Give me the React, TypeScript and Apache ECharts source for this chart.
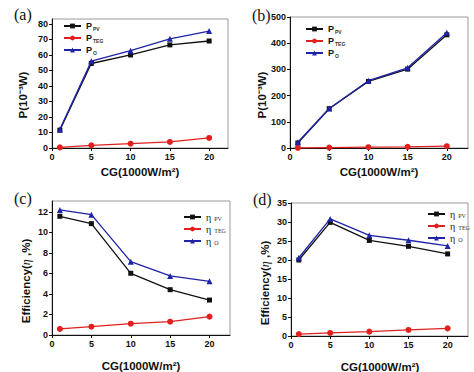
import React, { useEffect, useRef } from "react";
import * as echarts from "echarts";

const X = [1, 5, 10, 15, 20];
const pvA = [11.5, 54.5, 60, 66.5, 69];
const tegA = [0.4, 1.7, 2.8, 3.9, 6.5];
const oA = [12, 56, 62.8, 70.4, 75.4];
const pvB = [19, 150, 254, 301, 432];
const tegB = [0.5, 1.5, 3, 4.5, 7];
const oB = [22, 151, 257, 306, 440];
const pvC = [11.58, 10.86, 6.02, 4.42, 3.41];
const tegC = [0.59, 0.81, 1.1, 1.3, 1.79];
const oC = [12.2, 11.74, 7.15, 5.76, 5.24];
const pvD = [20.0, 29.9, 25.15, 23.6, 21.6];
const tegD = [0.5, 0.8, 1.15, 1.6, 2.0];
const oD = [20.6, 30.8, 26.5, 25.2, 23.7];

const BLACK = "#111111";
const RED = "#e0201e";
const BLUE = "#1e23a8";
const SANS = "Liberation Sans";
const SERIF = "Liberation Serif";

const pair = (ys: number[]) => X.map((x, i) => [x, ys[i]]);

export default function App() {
  const ref = useRef<HTMLDivElement>(null);
  useEffect(() => {
    const chart = echarts.init(ref.current!, null, { renderer: "svg" });
    const grids = [
      { left: 52, top: 19, width: 176, height: 129, xmax: 22.4, ymax: 83.2, yint: 10 },
      { left: 290, top: 17, width: 178, height: 131, xmax: 22.7, ymax: 500, yint: 100 },
      { left: 52, top: 201, width: 178, height: 134, xmax: 22.6, ymax: 13.07, yint: 2 },
      { left: 291, top: 203, width: 177, height: 133, xmax: 22.6, ymax: 35, yint: 5 },
    ];
    const data = [
      [pvA, tegA, oA],
      [pvB, tegB, oB],
      [pvC, tegC, oC],
      [pvD, tegD, oD],
    ];
    const keys = ["PV", "TEG", "O"];
    const colors = [BLACK, RED, BLUE];
    const symbols = ["rect", "circle", "triangle"];
    const symSizes = [5, 6, 6];
    const series: any[] = [];
    data.forEach((set, g) => {
      set.forEach((ys, k) => {
        series.push({
          type: "line",
          name: `${g}_${keys[k]}`,
          xAxisIndex: g,
          yAxisIndex: g,
          data: pair(ys),
          symbol: symbols[k],
          symbolSize: symSizes[k],
          color: colors[k],
          lineStyle: { color: colors[k], width: 1.3 },
          itemStyle: { color: colors[k] },
          z: k === 1 ? 3 : 2 + k,
        });
      });
    });
    const legendPos = [
      { left: 63, top: 21 },
      { left: 305, top: 24 },
      { left: 183, top: 212 },
      { left: 427, top: 209 },
    ];
    const legends = legendPos.map((p, g) => ({
      left: p.left,
      top: p.top,
      orient: "vertical",
      itemWidth: 17,
      itemHeight: 6,
      itemGap: 2,
      padding: 0,
      data: keys.map((k) => `${g}_${k}`),
      formatter: (name: string) => {
        const sub = name.split("_")[1];
        return g < 2 ? `{p|P}{s|${sub}}` : `{e|η}{t|${sub}}`;
      },
      textStyle: {
        lineHeight: 10,
        rich: {
          p: { fontFamily: SANS, fontWeight: "bold", fontSize: 9, color: "#111", lineHeight: 10 },
          s: { fontFamily: SANS, fontWeight: "bold", fontSize: 5, color: "#333", lineHeight: 10, verticalAlign: "bottom", padding: [0, 0, 0, 1] },
          e: { fontFamily: SERIF, fontSize: 10, color: "#111", lineHeight: 10 },
          t: { fontFamily: SERIF, fontSize: 6, color: "#333", lineHeight: 10, verticalAlign: "bottom", padding: [0, 0, 0, 3] },
        },
      },
    }));
    const titles: any[] = [];
    const letters = [
      { t: "(a)", x: 14, y: 14 },
      { t: "(b)", x: 252, y: 15 },
      { t: "(c)", x: 14, y: 198 },
      { t: "(d)", x: 253, y: 199 },
    ];
    letters.forEach((l) =>
      titles.push({
        type: "text",
        x: l.x,
        y: l.y,
        style: { text: l.t, fontFamily: SERIF, fontSize: 16, fill: "#111", textVerticalAlign: "middle" },
      })
    );
    const xt = [
      { x: 140, y: 172 },
      { x: 379, y: 172 },
      { x: 141, y: 366 },
      { x: 380, y: 367 },
    ];
    xt.forEach((p) =>
      titles.push({
        type: "text",
        x: p.x,
        y: p.y,
        style: {
          text: "CG(1000W/m²)",
          fontFamily: SANS,
          fontWeight: "bold",
          fontSize: 11.5,
          fill: "#111",
          textAlign: "center",
          textVerticalAlign: "middle",
        },
      })
    );
    const yt = [
      { x: 23, y: 95, k: 0 },
      { x: 262, y: 95, k: 0 },
      { x: 26, y: 281, k: 1 },
      { x: 265, y: 283, k: 1 },
    ];
    yt.forEach((p) =>
      titles.push({
        type: "text",
        x: p.x,
        y: p.y,
        rotation: Math.PI / 2,
        style: p.k === 0
          ? {
              text: "P(10⁻³W)",
              fontFamily: SANS,
              fontWeight: "bold",
              fontSize: 11.5,
              fill: "#111",
              textAlign: "center",
              textVerticalAlign: "middle",
            }
          : {
              text: "{b|Efficiency(}{i|η}{b| ,%)}",
              textAlign: "center",
              textVerticalAlign: "middle",
              rich: {
                b: { fontFamily: SANS, fontWeight: "bold", fontSize: 11.5, fill: "#111" },
                i: { fontFamily: SERIF, fontStyle: "italic", fontSize: 12, fill: "#111" },
              },
            },
      })
    );

    const option: any = {
      animation: false,
      backgroundColor: "#ffffff",
      grid: grids.map((g) => ({
        left: g.left,
        top: g.top,
        width: g.width,
        height: g.height,
        show: true,
        borderColor: "#9a9a9a",
        borderWidth: 1,
        backgroundColor: "transparent",
      })),
      xAxis: grids.map((g, i) => ({
        type: "value",
        gridIndex: i,
        min: 0,
        max: g.xmax,
        interval: 5,
        splitLine: { show: false },
        axisLine: { show: true, onZero: false, lineStyle: { color: "#111", width: 1 } },
        axisTick: { show: true, length: 3, lineStyle: { color: "#111" } },
        axisLabel: {
          showMaxLabel: false,
          margin: 4,
          fontFamily: SANS,
          fontWeight: "bold",
          fontSize: 9,
          color: "#111",
        },
      })),
      yAxis: grids.map((g, i) => ({
        type: "value",
        gridIndex: i,
        min: 0,
        max: g.ymax,
        interval: g.yint,
        splitLine: { show: false },
        axisLine: { show: true, onZero: false, lineStyle: { color: "#111", width: 1 } },
        axisTick: { show: true, length: 3, lineStyle: { color: "#111" } },
        axisLabel: {
          showMaxLabel: g.ymax % g.yint === 0,
          margin: 4,
          fontFamily: SANS,
          fontWeight: "bold",
          fontSize: 9,
          color: "#111",
        },
      })),
      legend: legends,
      series,
      graphic: titles,
    };
    chart.setOption(option);
    return () => chart.dispose();
  }, []);
  return (
    <div
      ref={ref}
      style={{ position: "fixed", left: 0, top: 0, width: 474, height: 372, background: "#fff" }}
    />
  );
}
